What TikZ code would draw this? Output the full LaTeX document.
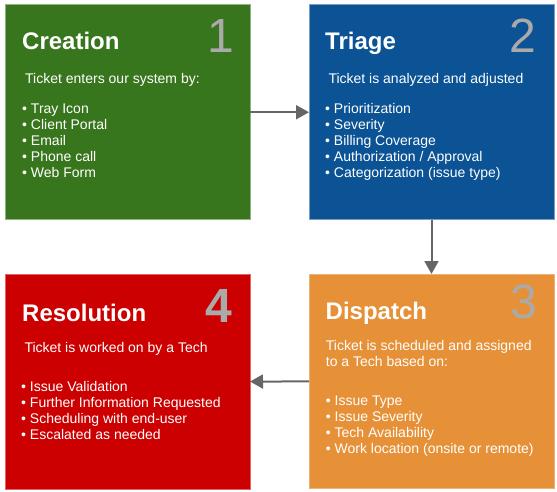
\documentclass[tikz,border=0pt]{standalone}
\usepackage{fontspec}
\setmainfont{Liberation Sans}
\usetikzlibrary{arrows.meta}
\definecolor{cgreen}{HTML}{38761D}
\definecolor{cblue}{HTML}{0B5394}
\definecolor{corange}{HTML}{E69138}
\definecolor{cred}{HTML}{CC0000}
\definecolor{cnum}{HTML}{AAAAAA}
\definecolor{carrow}{HTML}{666666}
\newcommand{\linesof}[1]{\begin{tabular}[t]{@{}l@{}}#1\end{tabular}}
\tikzset{
  panel/.style={anchor=north west, minimum width=245pt, minimum height=214.5pt, inner sep=0pt, outer sep=0pt, line width=1pt},
  title/.style={anchor=base west, inner sep=0pt, text=white, font=\fontsize{24}{28}\selectfont\bfseries},
  num/.style={anchor=base east, inner sep=0pt, text=cnum, font=\fontsize{48}{48}\selectfont},
  body/.style={anchor=base west, inner sep=0pt, text=white, font=\fontsize{14}{16}\selectfont},
  flow/.style={draw=carrow, line width=2pt, -{Triangle[length=13pt,width=14pt]}}
}
\begin{document}
\begin{tikzpicture}[x=1pt,y=-1pt]
\useasboundingbox (0,0) rectangle (557,492);
% panels
\node[panel, fill=cgreen, draw=cgreen!55!white] (b1) at (5,5) {};
\node[panel, fill=cblue, draw=cblue!55!white] (b2) at (309,5) {};
\node[panel, fill=corange, draw=corange!70!white] (b3) at (309,274) {};
\node[panel, fill=cred, draw=cred!60!white] (b4) at (5,274.5) {};
% titles
\node[title] (t1) at (22,50) {Creation};
\node[title] (t2) at (325,50) {Triage};
\node[title] (t3) at (325.5,319.5) {Dispatch};
\node[title] (t4) at (22,321) {Resolution};
% numbers
\node[num] (n1) at (234,52.5) {1};
\node[num] (n2) at (536,53) {2};
\node[num] (n3) at (537,318) {3};
\node[num, font=\fontsize{48}{48}\selectfont\bfseries] (n4) at (232.5,322.5) {4};
% subtitles
\node[body] (s1) at (25,83.3) {Ticket enters our system by:};
\node[body] (s2) at (328.3,83.3) {Ticket is analyzed and adjusted};
\node[body] (s3) at (325.7,350.7) {\linesof{Ticket is scheduled and assigned\\to a Tech based on:}};
\node[body] (s4) at (24.3,352.7) {Ticket is worked on by a Tech};
% lists
\node[body] (l1) at (22,114) {\linesof{• Tray Icon\\• Client Portal\\• Email\\• Phone call\\• Web Form}};
\node[body] (l2) at (325,114) {\linesof{• Prioritization\\• Severity\\• Billing Coverage\\• Authorization / Approval\\• Categorization (issue type)}};
\node[body] (l3) at (325.7,405.7) {\linesof{• Issue Type\\• Issue Severity\\• Tech Availability\\• Work location (onsite or remote)}};
\node[body] (l4) at (21,391.7) {\linesof{• Issue Validation\\• Further Information Requested\\• Scheduling with end-user\\• Escalated as needed}};
% connectors
\draw[flow] (b1) -- (b2);
\draw[flow] (b2) -- (b3);
\draw[flow] (b3) -- (b4);
\end{tikzpicture}
\end{document}
